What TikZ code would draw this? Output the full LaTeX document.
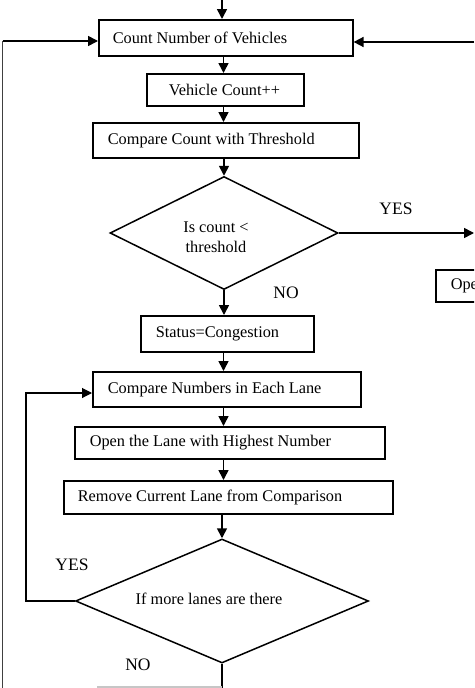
\documentclass[tikz,border=0pt]{standalone}
\usepackage{fontspec}
\setmainfont{Liberation Serif}
\usetikzlibrary{arrows.meta,shapes.geometric,calc}
\begin{document}
\begin{tikzpicture}[x=1pt,y=-1pt,
  box/.style={draw,line width=1.6pt,rectangle,inner ysep=0pt,anchor=north west,
    font=\fontsize{16.3}{19}\selectfont},
  dia/.style={draw,diamond,line width=1.5pt,inner sep=0pt},
  txt/.style={align=center,inner sep=0pt,font=\fontsize{16.3}{20}\selectfont},
  lbl/.style={inner sep=0pt,font=\fontsize{17.5}{20}\selectfont},
  arr/.style={line width=1.6pt,-{Triangle[length=10pt,width=10pt]}},
  plain/.style={line width=1.6pt},
  thinarr/.style={line width=1.1pt,-{Triangle[length=10pt,width=10pt]}}
]
\useasboundingbox (0,0) rectangle (474,688);
\clip (0,0) rectangle (474,688);
\fill[white] (0,0) rectangle (474,688);

\coordinate (spine) at (223.5,0);

% boxes
\node[box,minimum height=36pt,inner xsep=14pt] (b1) at (98,19) {\makebox[226pt][l]{Count Number of Vehicles}};
\node[box,minimum height=32pt,inner xsep=22pt] (b2) at (146,73) {\makebox[113pt][l]{Vehicle Count++}};
\node[box,minimum height=35pt,inner xsep=15pt] (b3) at (92,122) {\makebox[236pt][l]{Compare Count with Threshold}};
\node[box,minimum height=36pt,inner xsep=15pt] (b4) at (140,315) {\makebox[143pt][l]{Status=Congestion}};
\node[box,minimum height=35pt,inner xsep=15pt] (b5) at (92,371) {\makebox[238pt][l]{Compare Numbers in Each Lane}};
\node[box,minimum height=32pt,inner xsep=15pt] (b6) at (74,426) {\makebox[280pt][l]{Open the Lane with Highest Number}};
\node[box,minimum height=33pt,inner xsep=14pt] (b7) at (63,480) {\makebox[301pt][l]{Remove Current Lane from Comparison}};
\node[box,minimum height=32pt,inner xsep=15pt] (b8) at (435,269) {\makebox[60pt][l]{Ope}};

% diamonds
\node[dia,minimum width=228pt,minimum height=113pt] (d1) at (224,233) {};
\node[txt] (t1) at (216,237) {Is count <\\threshold};
\node[dia,minimum width=293pt,minimum height=124pt] (d2) at (222,601) {};
\node[txt] (t2) at (209,599) {If more lanes are there};

% labels
\node[lbl] (yes1) at (396,209) {YES};
\node[lbl] (no1) at (286,293) {NO};
\node[lbl] (yes2) at (72,565) {YES};
\node[lbl] (no2) at (138,665) {NO};

% coordinates
\coordinate (top) at (222,0);
\coordinate (yesend) at (474,233);
\coordinate (rin) at (474,42);
\coordinate (lbot) at (2.5,690);
\coordinate (ltop) at (2.5,41);
\coordinate (l2) at (26,393);
\coordinate (bot) at (222,690);
\coordinate (botl) at (97,687);

% connectors
\draw[arr] (top) -- (top |- b1.north);
\draw[arr] (b1.south -| spine) -- (b2.north -| spine);
\draw[arr] (b2.south -| spine) -- (b3.north -| spine);
\draw[arr] (b3.south -| d1.north) -- (d1.north);
\draw[arr] (d1.east) -- (yesend);
\draw[arr] (d1.south) -- (d1.south |- b4.north);
\draw[arr] (b4.south -| spine) -- (b5.north -| spine);
\draw[arr] (b5.south -| spine) -- (b6.north -| spine);
\draw[arr] (b6.south -| spine) -- (b7.north -| spine);
\draw[arr] (b7.south -| d2.north) -- (d2.north);
\draw[thinarr] (d2.west) -| (l2) -- (l2 -| b5.west);
\draw[plain] (d2.south) -- (bot);
\draw[line width=1.6pt,gray!45] (botl) -- (bot |- botl);
\draw[arr] (rin) -- (rin -| b1.east);
\draw[line width=1.8pt,black!75] (lbot) -- (ltop);
\draw[arr] (ltop) -- (ltop -| b1.west);
\end{tikzpicture}
\end{document}
